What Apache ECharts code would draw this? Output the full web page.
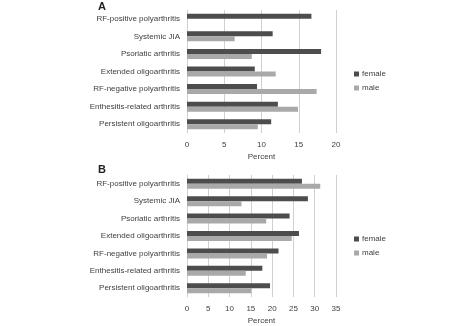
<!DOCTYPE html>
<html><head><meta charset="utf-8">
<script src="https://cdn.jsdelivr.net/npm/echarts@6/dist/echarts.min.js"></script>
<style>html,body{margin:0;padding:0;background:#fff}#c{width:474px;height:326px}</style>
</head><body><div id="c"></div>
<script>
const categories = ["RF-positive polyarthritis","Systemic JIA","Psoriatic arthritis","Extended oligoarthritis","RF-negative polyarthritis","Enthesitis-related arthritis","Persistent oligoarthritis"];
const femaleA = [16.7, 11.5, 18.0, 9.1, 9.4, 12.2, 11.3];
const maleA   = [0, 6.4, 8.7, 11.9, 17.4, 14.9, 9.5];
const femaleB = [27.0, 28.4, 24.1, 26.3, 21.5, 17.7, 19.5];
const maleB   = [31.3, 12.8, 18.6, 24.6, 18.8, 13.8, 15.1];
const ticksA = {min:0, max:20, interval:5};
const ticksB = {min:0, max:35, interval:5};

const FONT = "Liberation Sans Narrow, Liberation Sans, sans-serif";
const TXT = '#404040';
const DARK = '#4d4d4d', LIGHT = '#a9a9a9';
const chart = echarts.init(document.getElementById('c'));

function xAx(gi, t){
  return {type:'value', gridIndex:gi, min:t.min, max:t.max, interval:t.interval,
    name:'Percent', nameLocation:'middle', nameGap:20,
    nameTextStyle:{fontFamily:FONT, fontSize:8, color:TXT},
    axisLine:{show:false}, axisTick:{show:false},
    axisLabel:{fontFamily:FONT, fontSize:8, color:TXT, margin:8},
    splitLine:{show:true, lineStyle:{color:'#d0d0d0', width:1}}};
}
function yAx(gi){
  return {type:'category', gridIndex:gi, data:categories, inverse:true,
    axisLine:{show:true, lineStyle:{color:'#d0d0d0'}}, axisTick:{show:false},
    axisLabel:{fontFamily:FONT, fontSize:8, color:TXT, margin:7}};
}
function bar(name, data, xi, color){
  return {type:'bar', name, data, xAxisIndex:xi, yAxisIndex:xi, barWidth:5, barGap:'0%',
    itemStyle:{color}, silent:true, animation:false};
}
function leg(top){
  return {orient:'vertical', left:349, top, itemWidth:5, itemHeight:5, itemGap:6,
    icon:'rect', data:['female','male'],
    textStyle:{fontFamily:FONT, fontSize:8, color:TXT, padding:[0,0,0,-2]}};
}
chart.setOption({
  animation:false,
  grid:[{left:187, top:10, width:149, height:123},
        {left:187, top:175, width:149, height:123}],
  xAxis:[xAx(0, ticksA), xAx(1, ticksB)],
  yAxis:[yAx(0), yAx(1)],
  legend:[leg(65), leg(230)],
  series:[bar('female', femaleA, 0, DARK), bar('male', maleA, 0, LIGHT),
          bar('female', femaleB, 1, DARK), bar('male', maleB, 1, LIGHT)],
  graphic:[
    {type:'text', left:98, top:1, style:{text:'A', font:'bold 11px Liberation Sans, sans-serif', fill:'#222'}},
    {type:'text', left:98, top:164, style:{text:'B', font:'bold 11px Liberation Sans, sans-serif', fill:'#222'}}
  ]
});
</script></body></html>
